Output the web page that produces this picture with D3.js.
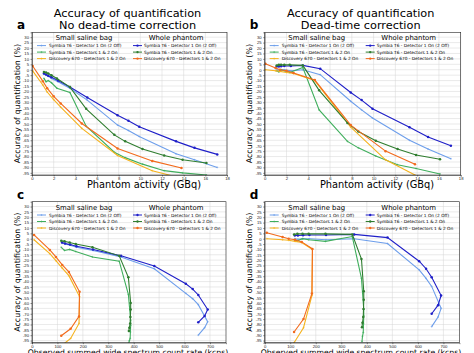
<!DOCTYPE html>
<html>
<head>
<meta charset="utf-8">
<script src="https://cdn.jsdelivr.net/npm/d3@7"></script>
<style>
  body { margin: 0; background: #fff; }
  svg { display: block; font-family: "DejaVu Sans", sans-serif; }
  .grid line { stroke: #d4d4d4; stroke-width: 0.5; }
  .axis path, .axis line { stroke: #222; stroke-width: 0.5; }
  .axis text { font-size: 4.2px; fill: #222; }
</style>
</head>
<body>
<script>
// ! Data
// Symbia T6 - Detector 1 On (2 Off)
const actBlue = [1.1, 1.3, 1.5, 1.8, 2.4, 3.5, 5.1, 7.9, 8.9, 9.9, 13.3, 15.0, 17.1];
const rateBlue = [118, 130, 150, 175, 240, 350, 481, 605, 632, 654, 691, 679, 654];
const bagNoDtBlue = [-4, -5, -6, -8, -11, -17, -28, -51, -56, -61.5, -77.5, -83, -90];
const phantomNoDtBlue = [-3.5, -4.5, -5.5, -7, -10, -16, -25.5, -42, -47, -52.5, -66, -72, -78];
const bagDtBlue = [0, -0.5, 0, 0, -1, 0, -4.5, -29, -37, -44.5, -65, -73, -82];
const phantomDtBlue = [3, 3, 3.3, 3.5, 3.5, 4, 1, -21, -28, -36, -53, -62, -70];

// Symbia T6 - Detectors 1 & 2 On
const actGreen = [1.1, 1.3, 1.5, 1.8, 2.3, 3.5, 5.0, 7.6, 8.6, 10.2, 12.2, 13.9, 16.1];
const rateGreen = [115, 128, 148, 172, 238, 343, 379, 388, 388, 387, 386, 383, 381];
const bagNoDtGreen = [-8, -11, -10, -12, -17, -21, -52, -76, -81, -87, -93, -95, -97];
const phantomNoDtGreen = [-2, -2.5, -3.5, -5, -8, -16, -36, -60, -66, -73, -79, -83, -86];
const bagDtGreen = [-1, -2, 0, -1, -2.5, 2, -37, -66, -72, -79.5, -87.5, -91, -96];
const phantomDtGreen = [4, 4.5, 4.5, 4.5, 4.5, 4, -19, -49, -57, -65.5, -73, -78.5, -82.5];

// Discovery 670 - Detectors 1 & 2 On
const actOrange = [0.06, 1.0, 1.4, 2.0, 2.65, 4.6, 7.9, 11.1, 13.8];
const rateOrange = [8, 70, 94, 119, 145, 187, 185, 152, 115];
const bagNoDtOrange = [-1, -14, -20.5, -27.5, -34.5, -54, -79, -93, -100];
const phantomNoDtOrange = [3.5, -10.5, -17, -24.5, -31, -49.5, -72.5, -84, -90.5];
const bagDtOrange = [0, -1, -1.5, -2.5, -3.5, -10, -53, -83, -97];
const phantomDtOrange = [5.5, 1.5, 0, -1, -3, -9.5, -51, -75, -87];

const systemLabels = [
  'Symbia T6 - Detector 1 On (2 Off)',
  'Symbia T6 - Detectors 1 & 2 On',
  'Discovery 670 - Detectors 1 & 2 On',
];
const groupLabels = ['Small saline bag', 'Whole phantom'];
const yTicks = d3.range(-95, 31, 5);
const actTicks = d3.range(0, 19, 2);
const rateTicks = d3.range(0, 701, 100);

// * Series table built from the arrays above
const series = [
  { row: 0, col: 0, color: '#6d9eeb', mark: 'plus', act: actBlue, rate: rateBlue, noDt: bagNoDtBlue, dt: bagDtBlue },
  { row: 1, col: 0, color: '#3fae5c', mark: 'plus', act: actGreen, rate: rateGreen, noDt: bagNoDtGreen, dt: bagDtGreen },
  { row: 2, col: 0, color: '#f5b21c', mark: 'plus', act: actOrange, rate: rateOrange, noDt: bagNoDtOrange, dt: bagDtOrange },
  { row: 0, col: 1, color: '#1f1fc8', mark: 'dot', act: actBlue, rate: rateBlue, noDt: phantomNoDtBlue, dt: phantomDtBlue },
  { row: 1, col: 1, color: '#2f7d2f', mark: 'dot', act: actGreen, rate: rateGreen, noDt: phantomNoDtGreen, dt: phantomDtGreen },
  { row: 2, col: 1, color: '#f26b1d', mark: 'dot', act: actOrange, rate: rateOrange, noDt: phantomNoDtOrange, dt: phantomDtOrange },
];

// ! Drawing
const width = 474;
const height = 353;
const svg = d3.select('body').append('svg').attr('width', width).attr('height', height);

const panels = [
  { id: 'a', left: 32, right: 227, top: 32.3, bottom: 175, xKey: 'act', yKey: 'noDt', xMax: 18, ticks: actTicks, xLabel: 'Phantom activity (GBq)', xLabelX: 144, xLabelY: 188.3, xLabelSize: 9.8, title: 'No dead-time correction' },
  { id: 'b', left: 264.7, right: 460.7, top: 32.3, bottom: 175, xKey: 'act', yKey: 'dt', xMax: 18, ticks: actTicks, xLabel: 'Phantom activity (GBq)', xLabelX: 377, xLabelY: 188.3, xLabelSize: 9.8, title: 'Dead-time correction' },
  { id: 'c', left: 32, right: 226, top: 201.7, bottom: 342.7, xKey: 'rate', yKey: 'noDt', xMax: 763, ticks: rateTicks, xLabel: 'Observed summed wide spectrum count rate (kcps)', xLabelX: 128, xLabelY: 355.2, xLabelSize: 7.7 },
  { id: 'd', left: 264.7, right: 459.5, top: 201.7, bottom: 342.7, xKey: 'rate', yKey: 'dt', xMax: 763, ticks: rateTicks, xLabel: 'Observed summed wide spectrum count rate (kcps)', xLabelX: 361, xLabelY: 355.2, xLabelSize: 7.7 },
];

panels.forEach((p) => {
  const x = d3.scaleLinear().domain([0, p.xMax]).range([p.left, p.right]);
  const y = d3.scaleLinear().domain([-97, 34.5]).range([p.bottom, p.top]);
  const g = svg.append('g');

  // * grid
  const grid = g.append('g').attr('class', 'grid');
  grid.selectAll('.gy').data(yTicks).enter().append('line')
    .attr('x1', p.left).attr('x2', p.right)
    .attr('y1', (d) => y(d)).attr('y2', (d) => y(d));
  grid.selectAll('.gx').data(p.ticks.filter((d) => d > 0)).enter().append('line')
    .attr('y1', p.top).attr('y2', p.bottom)
    .attr('x1', (d) => x(d)).attr('x2', (d) => x(d));

  // * lines
  g.append('clipPath').attr('id', `clip-${p.id}`).append('rect')
    .attr('x', p.left).attr('y', p.top)
    .attr('width', p.right - p.left).attr('height', p.bottom - p.top);
  const plot = g.append('g').attr('clip-path', `url(#clip-${p.id})`);
  const line = d3.line().x((d) => x(d[0])).y((d) => y(d[1]));
  series.forEach((s) => {
    const pts = s[p.xKey].map((v, i) => [v, s[p.yKey][i]]);
    plot.append('path').datum(pts).attr('d', line)
      .attr('fill', 'none').attr('stroke', s.color).attr('stroke-width', 1.1);
    if (s.mark === 'dot') {
      plot.selectAll(null).data(pts).enter().append('circle')
        .attr('cx', (d) => x(d[0])).attr('cy', (d) => y(d[1])).attr('r', 1.25)
        .attr('fill', s.color);
    } else {
      plot.selectAll(null).data(pts).enter().append('path')
        .attr('d', (d) => `M${x(d[0]) - 1},${y(d[1])}h2M${x(d[0])},${y(d[1]) - 1}v2`)
        .attr('stroke', s.color).attr('stroke-width', 0.5);
    }
  });

  // * axes
  g.append('g').attr('class', 'axis')
    .attr('transform', `translate(0,${p.bottom})`)
    .call(d3.axisBottom(x).tickValues(p.ticks).tickSize(1.5).tickPadding(0.6).tickFormat(d3.format('d')));
  g.append('g').attr('class', 'axis')
    .attr('transform', `translate(${p.left},0)`)
    .call(d3.axisLeft(y).tickValues(yTicks).tickSize(1.5).tickPadding(1.5).tickFormat((d) => `${d}`));
  g.append('rect').attr('x', p.left).attr('y', p.top)
    .attr('width', p.right - p.left).attr('height', p.bottom - p.top)
    .attr('fill', 'none').attr('stroke', '#222').attr('stroke-width', 0.6);

  // * labels
  g.append('text').text(p.xLabel)
    .attr('x', p.xLabelX).attr('y', p.xLabelY)
    .attr('text-anchor', 'middle').attr('font-size', p.xLabelSize);
  g.append('text').text('Accuracy of quantification (%)')
    .attr('transform', `translate(${p.left - 12.5},${(p.top + p.bottom) / 2}) rotate(-90)`)
    .attr('text-anchor', 'middle').attr('font-size', 7.9);
  g.append('text').text(p.id)
    .attr('x', p.left - 15).attr('y', p.top - 3)
    .attr('font-weight', 'bold').attr('font-size', 12);
  if (p.title) {
    const cx = (p.left + p.right) / 2 - 2;
    g.append('text').text('Accuracy of quantification')
      .attr('x', cx).attr('y', 16.5).attr('text-anchor', 'middle').attr('font-size', 11.3);
    g.append('text').text(p.title)
      .attr('x', cx).attr('y', 29).attr('text-anchor', 'middle').attr('font-size', 11.3);
  }

  // * legend
  const colX = [p.left + 5, p.left + 101];
  const headX = [p.left + 52, p.left + 144];
  groupLabels.forEach((t, i) => {
    g.append('text').text(t)
      .attr('x', headX[i]).attr('y', p.top + 7.8)
      .attr('text-anchor', 'middle').attr('font-size', 6.9);
  });
  series.forEach((s) => {
    const ly = p.top + 13.3 + s.row * 6.5;
    const lx = colX[s.col];
    g.append('line').attr('x1', lx).attr('x2', lx + 9).attr('y1', ly).attr('y2', ly)
      .attr('stroke', s.color).attr('stroke-width', 1);
    if (s.mark === 'dot') {
      g.append('circle').attr('cx', lx + 4.5).attr('cy', ly).attr('r', 1.2).attr('fill', s.color);
    } else {
      g.append('path').attr('d', `M${lx + 3.5},${ly}h2M${lx + 4.5},${ly - 1}v2`)
        .attr('stroke', s.color).attr('stroke-width', 0.5);
    }
    g.append('text').text(systemLabels[s.row])
      .attr('x', lx + (s.col === 0 ? 12 : 11)).attr('y', ly + 1.5)
      .attr('font-size', 4.3);
  });
});
</script>
</body>
</html>
